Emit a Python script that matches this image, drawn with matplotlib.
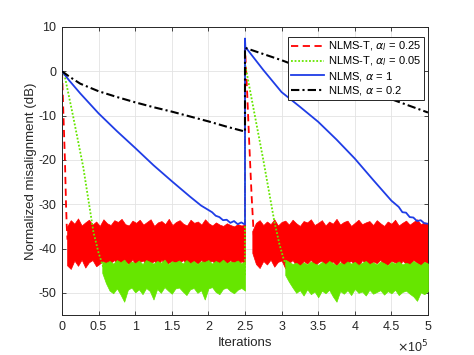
import matplotlib
matplotlib.use('Agg')
import matplotlib.pyplot as plt
from matplotlib.ticker import FuncFormatter

# ---------------- data (iterations, dB) ----------------
# NLMS-T, alpha_l = 0.25 (red): transients + envelopes of the noisy steady-state band
red_tr1_x = [0, 0.02e5, 0.04e5, 0.055e5, 0.065e5, 0.075e5]
red_tr1_y = [0, -10, -20, -30, -35, -38]
red_tr2_x = [2.5e5, 2.5e5, 2.53e5, 2.56e5, 2.59e5, 2.61e5, 2.62e5]
red_tr2_y = [-38, 5.3, -5, -17, -28, -34, -37]
red_b1_range = (0.07e5, 2.5e5)
red_b1_top = [-35.0, -33.6, -34.4, -33.2, -34.8, -34.1, -33.5, -34.6, -33.9, -34.9,
              -33.4, -34.3, -34.7, -33.6, -34.0, -33.3, -34.5, -34.8, -33.7, -34.2,
              -33.5, -34.6, -34.0, -33.4, -34.9, -34.1, -33.8, -34.5, -33.3, -34.7,
              -34.0, -33.6, -34.4, -34.8, -33.5, -34.2, -33.9, -34.6, -33.4, -34.3,
              -34.8, -34.1, -34.6, -34.9, -34.3, -34.7, -35.0, -34.5, -34.8, -34.6]
red_b1_bot = [-43.8, -44.6, -42.7, -43.9, -42.5, -44.3, -43.1, -42.6, -44.0, -43.4,
              -42.8, -44.5, -43.2, -42.6, -43.8, -44.2, -42.9, -43.5, -42.4, -44.1,
              -43.0, -42.7, -44.6, -43.3, -42.8, -43.9, -42.5, -44.0, -43.2, -42.7,
              -44.4, -43.1, -42.6, -43.7, -44.2, -42.9, -43.4, -42.5, -44.3, -43.0,
              -42.8, -43.6, -44.1, -42.7, -43.3, -42.6, -43.9, -44.2, -42.8, -43.5]
red_b2_range = (2.6e5, 5.0e5)
red_b2_top = [-36.0, -34.2, -33.6, -34.7, -33.9, -34.5, -33.4, -34.8, -34.0, -33.7,
              -34.6, -33.5, -34.3, -34.9, -33.8, -34.1, -33.4, -34.7, -34.2, -33.6,
              -34.8, -33.9, -34.4, -33.3, -34.6, -34.0, -33.7, -34.9, -34.2, -33.5,
              -34.5, -34.1, -33.8, -34.7, -33.6, -34.3, -34.9, -33.9, -34.4, -33.5,
              -34.8, -34.2, -33.7, -34.6, -34.0, -33.4, -34.5, -34.1, -34.3]
red_b2_bot = [-41.0, -43.5, -44.4, -42.8, -43.6, -42.5, -44.1, -43.0, -42.7, -44.5,
              -43.3, -42.6, -43.9, -44.2, -42.8, -43.4, -42.5, -44.0, -43.1, -42.7,
              -44.3, -43.5, -42.9, -43.8, -42.6, -44.4, -43.2, -42.8, -43.7, -44.1,
              -42.6, -43.4, -44.0, -42.9, -43.3, -42.5, -44.2, -43.6, -42.8, -43.1,
              -44.5, -42.7, -43.5, -43.9, -42.6, -43.2, -44.0, -42.9, -43.4]

# NLMS-T, alpha_l = 0.05 (green)
grn_tr1_x = [0, 0.03e5, 0.15e5, 0.29e5, 0.43e5, 0.5e5, 0.56e5, 0.62e5]
grn_tr1_y = [0, -0.5, -10, -21.6, -36.3, -41, -44, -45.5]
grn_tr2_x = [2.5e5, 2.5e5, 2.6e5, 2.75e5, 2.9e5, 2.97e5, 3.03e5, 3.1e5]
grn_tr2_y = [-46, 1.7, -7, -20, -33.8, -39, -42.5, -45]
grn_b1_range = (0.55e5, 2.5e5)
grn_b1_top = [-43.0, -43.2, -42.8, -43.4, -42.6, -43.1, -42.5, -43.6, -42.9, -43.3,
              -42.7, -43.5, -42.6, -43.0, -43.4, -42.8, -43.2, -42.5, -43.6, -42.9,
              -43.1, -42.7, -43.4, -42.6, -43.3, -42.8, -43.5, -42.9, -43.0, -42.6,
              -43.4, -42.8, -43.2, -42.5, -43.3, -42.9, -43.1, -42.7, -43.4, -42.8]
grn_b1_bot = [-45.5, -47.8, -49.5, -50.1, -49.0, -50.4, -52.0, -49.3, -48.8, -49.9,
              -49.2, -50.3, -48.9, -49.6, -51.5, -49.1, -50.0, -48.7, -49.5, -50.2,
              -49.0, -48.8, -49.7, -50.5, -49.2, -48.9, -50.0, -49.4, -51.5, -49.0,
              -48.7, -49.8, -50.3, -49.1, -48.8, -49.6, -50.1, -49.3, -48.9, -49.5]
grn_b2_range = (3.05e5, 5.0e5)
grn_b2_top = [-42.5, -43.0, -43.5, -43.2, -43.8, -43.1, -43.6, -42.9, -43.4, -43.7,
              -43.0, -43.5, -42.8, -43.3, -43.8, -43.1, -43.6, -42.9, -43.4, -43.0,
              -43.7, -43.2, -42.8, -43.5, -43.1, -43.6, -42.9, -43.3, -43.8, -43.0,
              -43.4, -42.9, -43.6, -43.2, -43.5, -42.8, -43.3, -43.7, -43.0, -43.4]
grn_b2_bot = [-46.0, -47.5, -48.8, -50.0, -49.4, -50.6, -49.2, -50.3, -49.7, -51.0,
              -49.5, -50.1, -49.3, -50.8, -52.0, -49.6, -50.2, -49.4, -50.5, -49.1,
              -50.0, -49.7, -50.6, -49.3, -50.2, -49.8, -49.4, -50.4, -49.6, -50.1,
              -49.3, -50.5, -49.8, -49.5, -50.2, -50.8, -51.8, -49.9, -50.3, -49.6]

# NLMS, alpha = 1 (blue)
blue_x = [0, 0.1e5, 0.25e5, 0.5e5, 0.75e5, 1.0e5, 1.25e5, 1.5e5, 1.75e5, 1.9e5, 2.0e5,
          2.05e5, 2.1e5, 2.15e5, 2.2e5, 2.25e5, 2.3e5, 2.35e5, 2.4e5, 2.45e5, 2.5e5,
          2.5e5, 2.505e5, 2.75e5, 3.0e5, 3.25e5, 3.5e5, 3.75e5, 4.0e5, 4.25e5, 4.5e5,
          4.6e5, 4.65e5, 4.7e5, 4.75e5, 4.8e5, 4.85e5, 4.9e5, 4.95e5, 5.0e5]
blue_y = [0, -2.1, -5.0, -9.5, -13.5, -17.3, -21.2, -24.8, -28.3, -30.3, -31.3,
          -31.8, -32.6, -32.9, -33.6, -33.5, -34.2, -33.8, -34.5, -34.1, -34.6,
          7.4, 5.5, 0.3, -4.7, -8.0, -11.4, -15.4, -19.7, -24.5, -29.2,
          -30.6, -31.8, -31.9, -32.9, -33.0, -33.8, -33.6, -34.3, -34.4]

# NLMS, alpha = 0.2 (black)
blk_x = [0, 0.1e5, 0.25e5, 0.5e5, 0.75e5, 1.0e5, 1.25e5, 1.5e5, 1.75e5, 2.0e5, 2.25e5,
         2.5e5, 2.5e5, 2.75e5, 3.0e5, 3.5e5, 4.0e5, 4.5e5, 5.0e5]
blk_y = [0, -1.2, -2.8, -4.5, -5.8, -7.0, -8.1, -9.1, -10.2, -11.3, -12.5,
         -13.6, 5.3, 3.9, 2.5, -0.6, -3.6, -6.3, -9.3]

labels = [r'NLMS-T, $\alpha_l$ = 0.25', r'NLMS-T, $\alpha_l$ = 0.05',
          r'NLMS, $\alpha$ = 1', r'NLMS, $\alpha$ = 0.2']
xticks = [0, 0.5e5, 1e5, 1.5e5, 2e5, 2.5e5, 3e5, 3.5e5, 4e5, 4.5e5, 5e5]
yticks = [-50, -40, -30, -20, -10, 0, 10]


def grid_x(rng, n):
    a, b = rng
    return [a + (b - a) * k / (n - 1) for k in range(n)]


# ---------------- style ----------------
plt.rcParams['font.family'] = ['Liberation Sans', 'DejaVu Sans']
plt.rcParams['mathtext.fontset'] = 'dejavusans'
plt.rcParams['axes.unicode_minus'] = False
RED = '#ff0000'
GRN = '#66e600'
BLU = '#1f3de6'
BLK = '#000000'
TXT = '#262626'
RED_LS = (0, (4, 2.5))

fig = plt.figure(figsize=(4.74, 3.55), dpi=100)
ax = fig.add_axes([62 / 474, 1 - 315 / 355, 366 / 474, 288 / 355])

# red
for rng, top, bot in [(red_b1_range, red_b1_top, red_b1_bot),
                      (red_b2_range, red_b2_top, red_b2_bot)]:
    ax.fill_between(grid_x(rng, len(top)), bot, top, color=RED, lw=0.5, zorder=2)
l_red, = ax.plot(red_tr1_x, red_tr1_y, color=RED, ls=RED_LS, lw=1.3, zorder=2)
ax.plot(red_tr2_x, red_tr2_y, color=RED, ls=RED_LS, lw=1.3, zorder=2)
# green
for rng, top, bot in [(grn_b1_range, grn_b1_top, grn_b1_bot),
                      (grn_b2_range, grn_b2_top, grn_b2_bot)]:
    ax.fill_between(grid_x(rng, len(top)), bot, top, color=GRN, lw=0.5, zorder=3)
l_grn, = ax.plot(grn_tr1_x, grn_tr1_y, color=GRN, ls=(0, (1, 1)), lw=1.3, zorder=3)
ax.plot(grn_tr2_x, grn_tr2_y, color=GRN, ls=(0, (1, 1)), lw=1.3, zorder=3)
# blue
l_blu, = ax.plot(blue_x, blue_y, color=BLU, lw=1.3, zorder=4)
# black
l_blk, = ax.plot(blk_x, blk_y, color=BLK, ls=(0, (4, 1.5, 1, 1.5)), lw=1.5, zorder=5)

ax.set_xlim(0, 5e5)
ax.set_ylim(-55, 10)
ax.set_xticks(xticks)
ax.set_yticks(yticks)
ax.xaxis.set_major_formatter(FuncFormatter(lambda v, p: f'{v / 1e5:g}'))
ax.grid(True, color='#e3e3e3', lw=0.6, zorder=0)
ax.set_axisbelow(True)
ax.tick_params(direction='in', top=True, right=True, length=3, width=0.6,
               labelsize=9, colors=TXT, pad=4)
for s in ax.spines.values():
    s.set_color(TXT)
    s.set_linewidth(0.7)

ax.set_xlabel('Iterations', fontsize=9.5, color=TXT, labelpad=3)
ax.set_ylabel('Normalized misalignment (dB)', fontsize=9.5, color=TXT, labelpad=1)
ax.text(1.0, -0.112, r'$\times$10$^5$', transform=ax.transAxes, ha='right', va='center',
        fontsize=9, color=TXT)

leg = ax.legend([l_red, l_grn, l_blu, l_blk], labels, loc='upper right',
                bbox_to_anchor=(0.99, 0.967), fontsize=8, frameon=True,
                fancybox=False, edgecolor=TXT, framealpha=1,
                borderaxespad=0, handlelength=3.0, handletextpad=0.3,
                labelspacing=0.12, borderpad=0.3)
leg.get_frame().set_linewidth(0.7)

fig.savefig('out.png', dpi=100)
